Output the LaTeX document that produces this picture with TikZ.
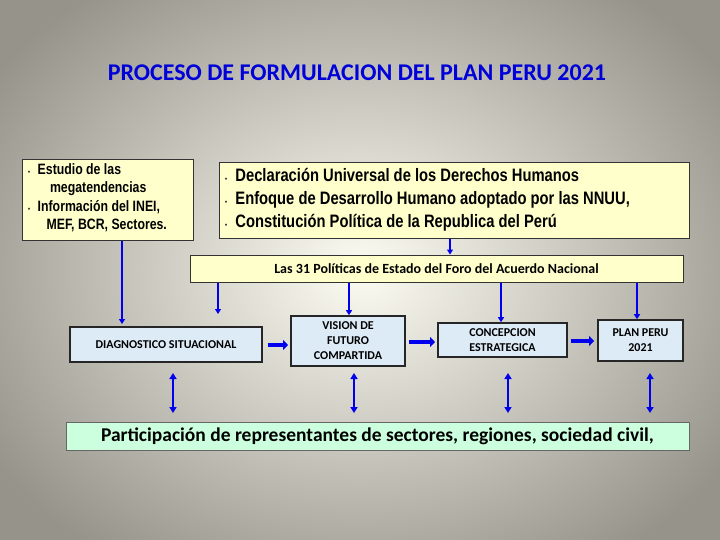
\documentclass[tikz,border=0pt]{standalone}
\usepackage{fontspec}
\setmainfont{Carlito}
\newfontfamily\narrowf[FakeStretch=0.82]{Liberation Sans}
\usetikzlibrary{arrows.meta}
\definecolor{ylw}{HTML}{FFFFCC}
\definecolor{lblue}{HTML}{DDEBF7}
\definecolor{lgreen}{HTML}{CCFFDD}
\definecolor{arr}{HTML}{0000EE}
\definecolor{bgin}{HTML}{FDFCF2}
\definecolor{bgout}{HTML}{96948A}
\newcommand{\bul}{{\scriptsize\textbullet}}
\tikzset{
 ybox/.style={draw=black!80,line width=1pt,fill=ylw,inner sep=0pt},
 bbox/.style={draw=black!85,line width=1.6pt,fill=lblue,font=\bfseries\fontsize{12}{15}\selectfont,align=center,inner sep=0pt},
 down/.style={arr,line width=1.6pt,-{Triangle[length=5pt,width=6pt]}},
 thick arrow/.style={arr,line width=3.5pt,-{Triangle[length=5pt,width=10pt]}},
 dbl/.style={arr,line width=2pt,{Triangle[length=6pt,width=7pt]}-{Triangle[length=6pt,width=7pt]}}
}
\begin{document}
\begin{tikzpicture}[x=1pt,y=-1pt]
\useasboundingbox (0,0) rectangle (720,540);
\shade[inner color=bgin, outer color=bgout] (-80,-80) rectangle (800,620);
\node[font=\bfseries\fontsize{24}{28}\selectfont,text=blue!85!black] (title) at (357,73) {PROCESO DE FORMULACION DEL PLAN PERU 2021};
\node[ybox,minimum width=171pt,minimum height=80pt] (lb) at (107.5,200) {};
\node[anchor=north west,align=left,font=\narrowf\bfseries\fontsize{15}{18.5}\selectfont,inner sep=0pt] (lbt) at (28,163) {\bul\enspace Estudio de las\\\quad\ \ megatendencias\\\bul\enspace Información del INEI,\\\quad\ MEF, BCR, Sectores.};
\node[ybox,minimum width=470pt,minimum height=75pt] (tb) at (454,200.5) {};
\node[anchor=north west,align=left,font=\narrowf\bfseries\fontsize{18}{23}\selectfont,inner sep=0pt] (tbt) at (225,168) {\bul\ \ Declaración Universal de los Derechos Humanos\\\bul\ \ Enfoque de Desarrollo Humano adoptado por las NNUU,\\\bul\ \ Constitución Política de la Republica del Perú};
\node[ybox,minimum width=493pt,minimum height=27pt,font=\bfseries\fontsize{14}{16}\selectfont] (pol) at (436.5,268.5) {Las 31 Políticas de Estado del Foro del Acuerdo Nacional};
\node[bbox,minimum width=192pt,minimum height=35pt] (diag) at (166,344.5) {DIAGNOSTICO SITUACIONAL};
\node[bbox,minimum width=114pt,minimum height=50pt] (vis) at (348,341) {VISION DE\\FUTURO\\COMPARTIDA};
\node[bbox,minimum width=129pt,minimum height=34pt] (con) at (502.5,340) {CONCEPCION\\ESTRATEGICA};
\node[bbox,minimum width=85pt,minimum height=41pt] (plan) at (640.5,340.5) {PLAN PERU\\2021};
\node[draw=black!60,line width=0.8pt,fill=lgreen,minimum width=623pt,minimum height=28pt,inner sep=0pt,font=\bfseries\fontsize{19.5}{22}\selectfont] (part) at (377.5,436) {Participación de representantes de sectores, regiones, sociedad civil,};
\draw[down] (lb.south -| 122,0) -- (122,324);
\draw[down] (tb.south -| 450,0) -- (pol.north -| 450,0);
\draw[down] (pol.south -| 218,0) -- (218,314);
\draw[down] (pol.south -| 349,0) -- (vis.north -| 349,0);
\draw[down] (pol.south -| 501,0) -- (con.north -| 501,0);
\draw[down] (pol.south -| 637,0) -- (plan.north -| 637,0);
\draw[thick arrow] (diag.east |- 0,345) ++(5,0) -- (288,345);
\draw[thick arrow] (vis.east |- 0,342) ++(3,0) -- (435,342);
\draw[thick arrow] (con.east |- 0,341) ++(3,0) -- (594,341);
\foreach \x/\n in {173/a,354/b,508/c,650/d}{
 \coordinate (t\n) at (\x,373); \coordinate (b\n) at (\x,413);
 \draw[dbl] (t\n) -- (b\n);}
\end{tikzpicture}
\end{document}
